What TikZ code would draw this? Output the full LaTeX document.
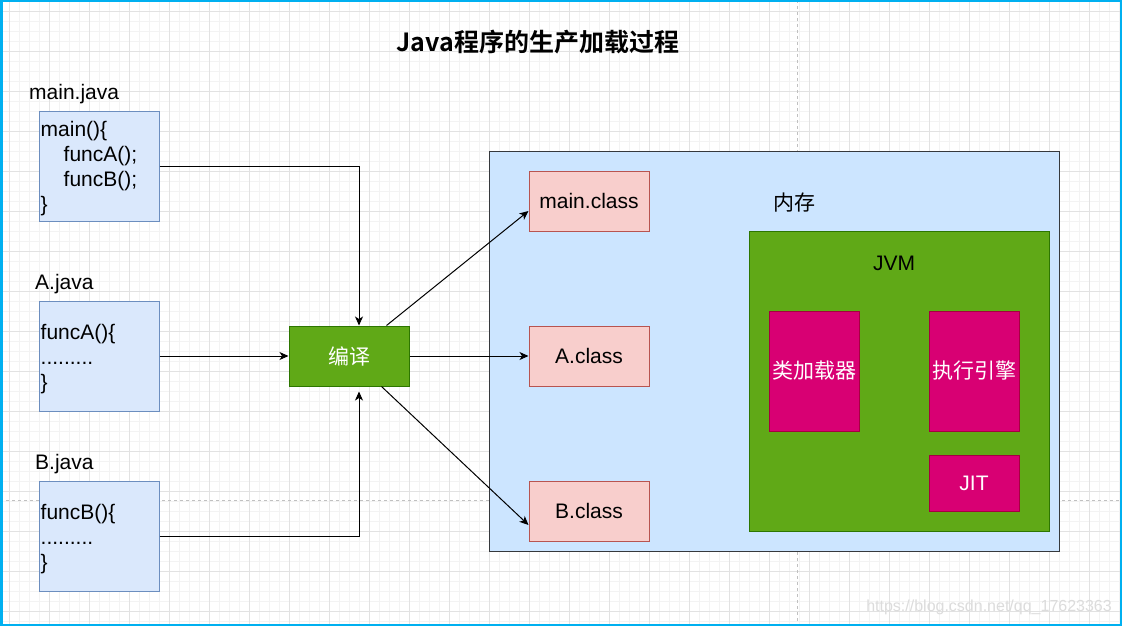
\documentclass[tikz,border=0pt]{standalone}
\usepackage{fontspec}
\setmainfont{Liberation Sans}
\newfontfamily\cjk{Noto Sans CJK SC}[BoldFont={Noto Sans CJK SC Bold}]
\usetikzlibrary{arrows.meta}
\definecolor{srcfill}{HTML}{DAE8FC}
\definecolor{srcdraw}{HTML}{6C8EBF}
\definecolor{grfill}{HTML}{60A917}
\definecolor{grdraw}{HTML}{2D7600}
\definecolor{clfill}{HTML}{F8CECC}
\definecolor{cldraw}{HTML}{B85450}
\definecolor{memfill}{HTML}{CCE5FF}
\definecolor{memdraw}{HTML}{36393D}
\definecolor{mgfill}{HTML}{D80073}
\definecolor{mgdraw}{HTML}{A50040}
\definecolor{framecol}{HTML}{00B0F0}
\definecolor{majorgrid}{HTML}{E2E2E2}
\definecolor{minorgrid}{HTML}{F3F3F3}
\definecolor{pagebreak}{HTML}{C0C0C0}
\definecolor{wmcol}{HTML}{DCDCDC}
\tikzset{
 base/.style={draw, line width=1pt, inner sep=0pt, font=\fontsize{21}{25}\selectfont},
 srcbox/.style={base, fill=srcfill, draw=srcdraw, minimum width=120pt, minimum height=110pt},
 greenbox/.style={base, fill=grfill, draw=grdraw},
 classbox/.style={base, fill=clfill, draw=cldraw, minimum width=120pt, minimum height=60pt},
 magbox/.style={base, fill=mgfill, draw=mgdraw, text=white, minimum width=90pt},
 lbl/.style={inner sep=0pt, font=\fontsize{21}{25}\selectfont},
 arr/.style={line width=1pt, -{Stealth[length=9pt,width=8pt,inset=2.5pt]}},
 minorline/.style={draw=minorgrid, line width=0.8pt},
 majorline/.style={draw=majorgrid, line width=1pt},
 breakline/.style={draw=pagebreak, line width=0.8pt, dash pattern=on 3pt off 3pt},
}
\begin{document}
\begin{tikzpicture}[x=1pt, y=-1pt]
\useasboundingbox (0,0) rectangle (1122,626);
\fill[white] (0,0) rectangle (1122,626);
% grid
\foreach \x in {-0.7,9.3,...,1125} \draw[minorline] (\x,0) -- (\x,626);
\foreach \y in {1.7,11.7,...,630} \draw[minorline] (0,\y) -- (1122,\y);
\foreach \x in {9.3,49.3,...,1125} \draw[majorline] (\x,0) -- (\x,626);
\foreach \y in {11.7,51.7,...,630} \draw[majorline] (0,\y) -- (1122,\y);
\draw[breakline] (797,0) -- (797,626);
\draw[breakline] (0,500) -- (1122,500);

% title
\node[inner sep=0pt, font=\cjk\bfseries\fontsize{25}{25}\selectfont] (title) at (538,42) {Java程序的生产加载过程};

% source files
\node[lbl, anchor=west] (mainlbl) at (29,94) {main.java};
\node[lbl, anchor=west] (albl) at (35,284) {A.java};
\node[lbl, anchor=west] (blbl) at (35,464) {B.java};
\node[srcbox] (mainj) at (99,166) {};
\node[srcbox] (aj) at (99,356) {};
\node[srcbox] (bj) at (99,536) {};
\node[lbl, anchor=west, align=left] (maint) at ([xshift=2pt,yshift=-3pt]mainj.west) {main()\{\\\hspace*{23pt}funcA();\\\hspace*{23pt}funcB();\\\}};
\node[lbl, anchor=west, align=left] (at) at ([xshift=2pt,yshift=-3pt]aj.west) {funcA()\{\\.........\\\}};
\node[lbl, anchor=west, align=left] (bt) at ([xshift=2pt,yshift=-3pt]bj.west) {funcB()\{\\.........\\\}};

% compile
\node[greenbox, text=white, minimum width=120pt, minimum height=60pt] (comp) at (349,356) {\cjk 编译};

% memory
\node[base, fill=memfill, draw=memdraw, minimum width=570pt, minimum height=400pt] (mem) at (774,351) {};
\node[lbl] (memlbl) at (794,203) {\cjk 内存};
\node[classbox] (mc) at (589,201) {\raisebox{-1pt}{main.class}};
\node[classbox] (ac) at (589,356) {\raisebox{-1pt}{A.class}};
\node[classbox] (bc) at (589,511) {\raisebox{-1pt}{B.class}};

% JVM
\node[greenbox, minimum width=300pt, minimum height=300pt] (jvm) at (899,381) {};
\node[lbl] (jvmlbl) at (894,263) {JVM};
\node[magbox, minimum height=120pt] (loader) at (814,371) {\cjk 类加载器};
\node[magbox, minimum height=120pt] (exec) at (974,371) {\cjk 执行引擎};
\node[magbox, minimum height=56pt] (jit) at (974,483) {\raisebox{-1pt}{JIT}};

% connectors
\draw[arr] (mainj.east) -| ([xshift=10pt]comp.north);
\draw[arr] (aj.east) -- (comp.west);
\draw[arr, shorten >=5pt] (bj.east) -| ([xshift=10pt]comp.south);
\draw[arr] ([xshift=37.5pt]comp.north) -- ([yshift=-10pt]mc.west);
\draw[arr] (comp.east) -- (ac.west);
\draw[arr] ([xshift=32.5pt]comp.south) -- ([yshift=-14pt]bc.west);

% watermark
\node[inner sep=0pt, anchor=east, text=wmcol, font=\fontsize{16}{16}\selectfont] (wm) at (1112,607) {https://blog.csdn.net/qq\_17623363};

% frame
\draw[framecol, line width=2.5pt] (1.25,1.25) rectangle (1120.75,624.75);
\end{tikzpicture}
\end{document}
